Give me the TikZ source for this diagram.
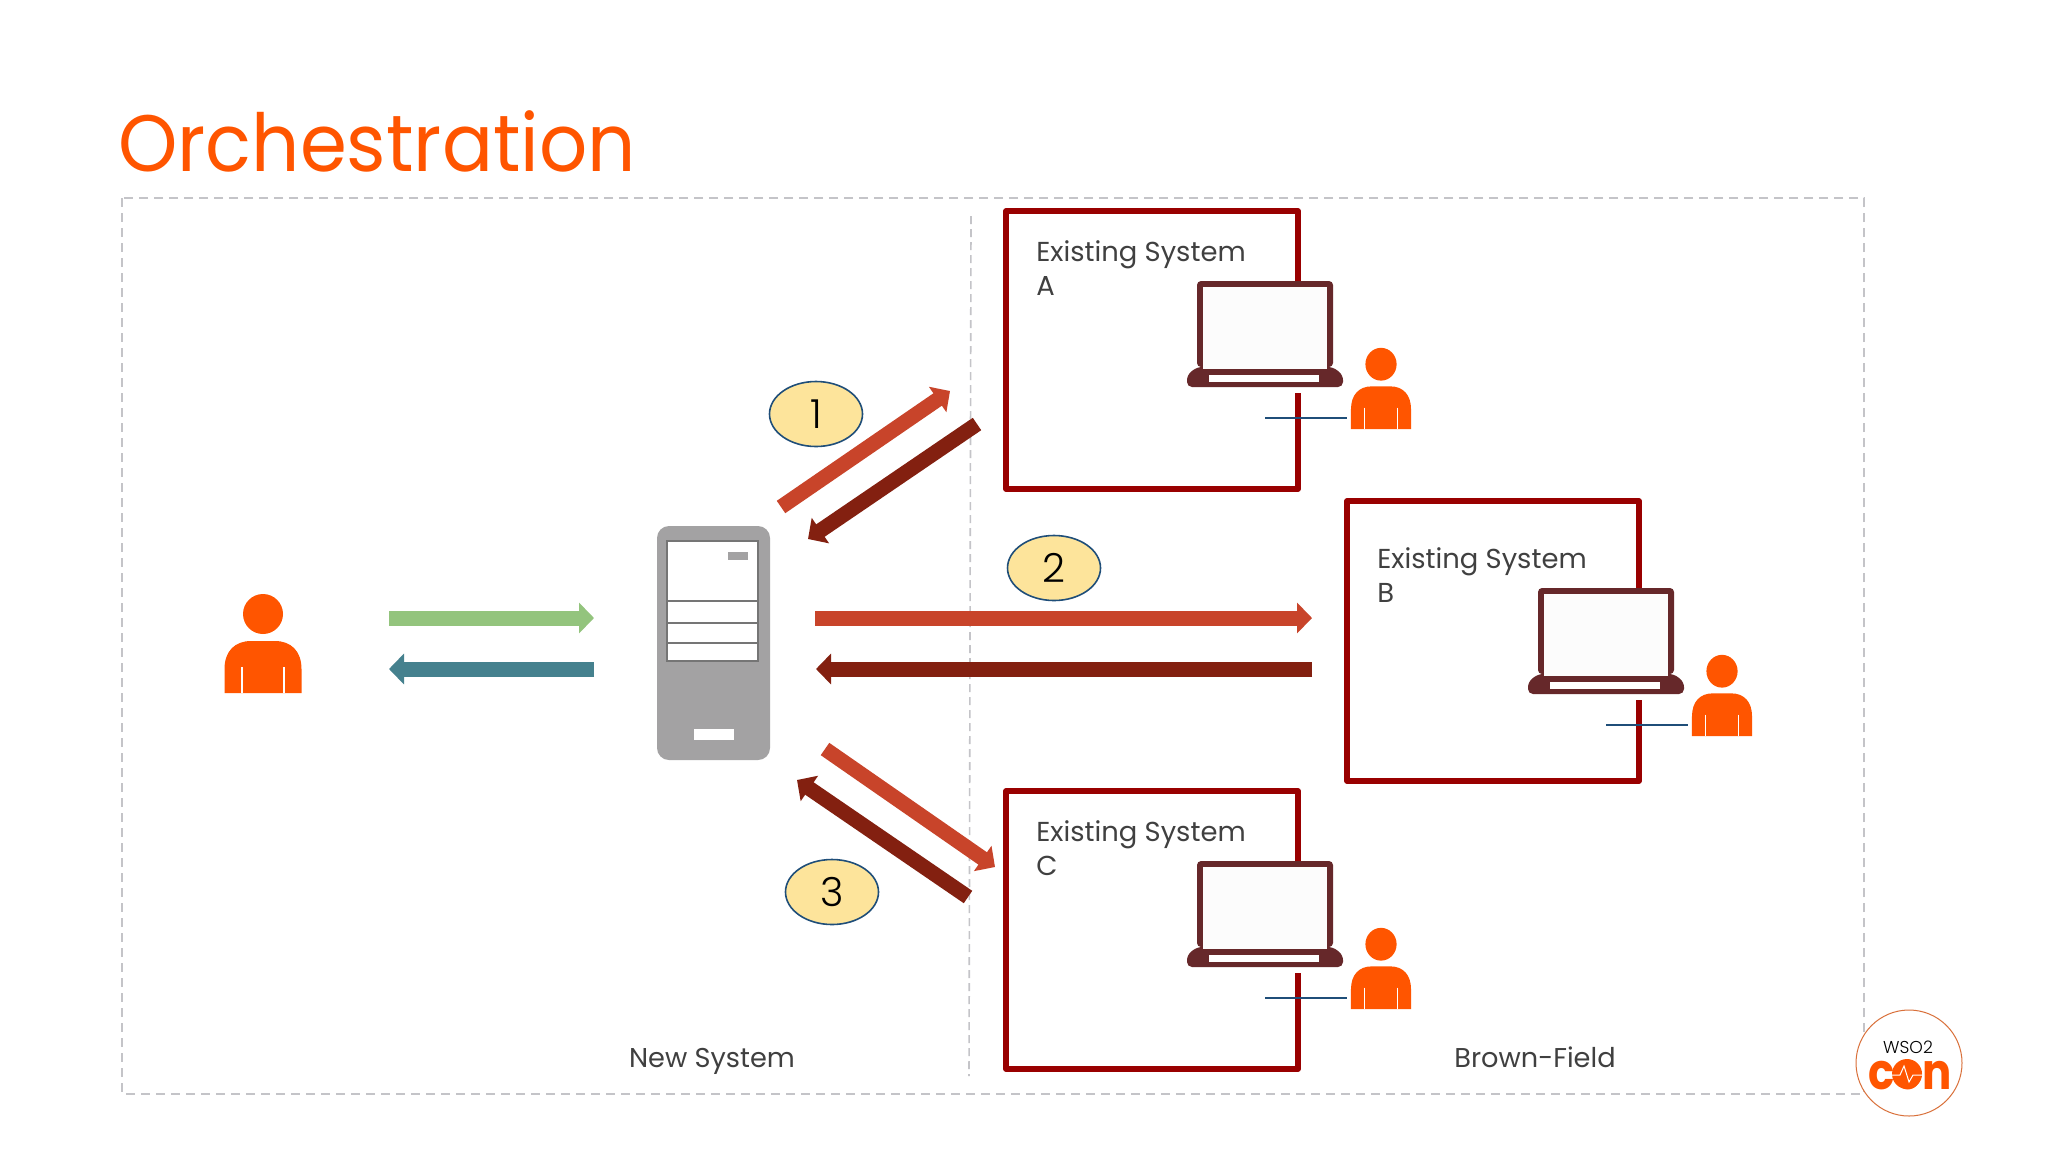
\documentclass[tikz,border=0pt]{standalone}
\usepackage{fontspec}
\setmainfont{Poppins}
\newfontfamily\titlefont{Poppins}[FakeStretch=.944]
\newfontfamily\numfont{Poppins}[UprightFont=* Light]
\newfontfamily\wsofont{Poppins}[UprightFont=* Light]
\newfontfamily\confont{Poppins}[UprightFont=* Bold]
\usetikzlibrary{arrows.meta,shapes.geometric}
\definecolor{wsoorange}{HTML}{FF5500}
\definecolor{boxred}{HTML}{990000}
\definecolor{arrowred}{HTML}{C8442A}
\definecolor{arrowdark}{HTML}{832010}
\definecolor{arrowgreen}{HTML}{93C47D}
\definecolor{arrowteal}{HTML}{45818E}
\definecolor{lapbrown}{HTML}{66282A}
\definecolor{dashgray}{HTML}{C4C4C8}
\definecolor{srvgray}{HTML}{A3A2A3}
\definecolor{srvline}{HTML}{757575}
\definecolor{linkblue}{HTML}{1F4E79}
\definecolor{badge}{HTML}{FDE49B}
\definecolor{txtgray}{HTML}{404040}
\definecolor{logoring}{HTML}{D9703A}
\tikzset{
  blockarrow/.style={line width=7.5pt,-{Triangle[length=7.5pt,width=15pt]}},
  sysbox/.style={draw=boxred,line width=2.7pt,rectangle,outer sep=0pt,inner sep=0pt,minimum width=146pt,minimum height=139pt,anchor=north west,line join=round},
  badgenode/.style={ellipse,draw=linkblue,fill=badge,line width=.8pt,minimum width=46.5pt,minimum height=32.5pt,inner sep=0pt,font=\numfont\fontsize{20}{20}\selectfont},
  systext/.style={anchor=north west,align=left,inner sep=0pt,text=txtgray,font=\fontsize{13.7}{17}\selectfont},
  caption/.style={anchor=base,text=txtgray,inner sep=0pt,font=\fontsize{13.6}{17}\selectfont},
  dashbox/.style={draw=dashgray,line width=.8pt,dash pattern=on 4.5pt off 3pt},
  person/.pic={
    \fill[wsoorange] (0,-79) circle[radius=20];
    \fill[wsoorange] (-38.5,0) -- (-38.5,-24) .. controls (-38.5,-42) and (-28,-52) .. (-12,-52) -- (12,-52) .. controls (28,-52) and (38.5,-42) .. (38.5,-24) -- (38.5,0) -- cycle;
    \draw[white,line width=.8pt] (-21,-26) -- (-21,0) (21,-26) -- (21,0);
  },
  laptop/.pic={
    \fill[white] (-5,0) rectangle (39,6);
    \fill[lapbrown,rounded corners=2pt] (-68,-20) -- (-68,-106) -- (68,-106) -- (68,-20) -- cycle;
    \fill[lapbrown,rounded corners=2.5pt] (-78,0) -- (-78,-12) -- (-68,-20) -- (68,-20) -- (78,-12) -- (78,0) -- cycle;
    \fill[white!99!black] (-62,-100) rectangle (62,-18);
    \fill[white] (-56,-12) rectangle (54,-5);
  }
}
\begin{document}
\begin{tikzpicture}[x=.5pt,y=-.5pt]
\useasboundingbox (0,0) rectangle (2048,1152);
\fill[white] (0,0) rectangle (2048,1152);
% title
\node[anchor=base west,inner sep=0pt,text=wsoorange,font=\titlefont\fontsize{40}{40}\selectfont] (title) at (118,171) {Orchestration};
% frame
\draw[dashbox] (122,198) rectangle (1864,1094);
\coordinate (divtop) at (971,216);
\coordinate (divbot) at (969,1076);
\draw[dashbox,dash pattern=on 4pt off 2.5pt] (divtop) -- (divbot);
% boxes
\node[sysbox] (boxA) at (1006,211) {};
\node[sysbox,minimum height=140pt] (boxB) at (1347,501) {};
\node[sysbox] (boxC) at (1006,791) {};
\node[systext] (txtA) at (1036,240) {Existing System\\A};
\node[systext] (txtB) at (1377,547) {Existing System\\B};
\node[systext] (txtC) at (1036,820) {Existing System\\C};
% laptops and users
\pic at (1265,387) {laptop};
\pic at (1606,694) {laptop};
\pic at (1265,967) {laptop};
\pic[xscale=.78,yscale=.82] at (1381,429) {person};
\pic[xscale=.78,yscale=.82] at (1722,736) {person};
\pic[xscale=.78,yscale=.82] at (1381,1009) {person};
\coordinate (la) at (1265,418); \coordinate (lb) at (1347,418);
\coordinate (lc) at (1606,725); \coordinate (ld) at (1688,725);
\coordinate (le) at (1265,998); \coordinate (lf) at (1347,998);
\draw[linkblue,line width=.7pt] (la) -- (lb) (lc) -- (ld) (le) -- (lf);
% client
\pic at (263,693) {person};
% server
\fill[srvgray,rounded corners=6pt] (657,526) rectangle (770,760);
\draw[srvline,fill=white,line width=.8pt] (667,541) rectangle (758,661);
\draw[srvline,line width=.8pt] (667,601) -- (758,601) (667,623) -- (758,623) (667,643) -- (758,643);
\fill[srvgray] (728,552) rectangle (748,560);
\fill[white] (694,729) rectangle (734,740);
% arrows
\coordinate (g1) at (389,618); \coordinate (g2) at (594,618);
\coordinate (t1) at (594,669); \coordinate (t2) at (389,669);
\draw[blockarrow,arrowgreen] (g1) -- (g2);
\draw[blockarrow,arrowteal] (t1) -- (t2);
\coordinate (a1) at (781,507); \coordinate (a2) at (950,391);
\coordinate (a3) at (977,424); \coordinate (a4) at (808,539);
\draw[blockarrow,arrowred] (a1) -- (a2);
\draw[blockarrow,arrowdark] (a3) -- (a4);
\coordinate (b1) at (815,618); \coordinate (b2) at (1312,618);
\coordinate (b3) at (1312,669); \coordinate (b4) at (816,669);
\draw[blockarrow,arrowred] (b1) -- (b2);
\draw[blockarrow,arrowdark] (b3) -- (b4);
\coordinate (c1) at (825,749); \coordinate (c2) at (995,867);
\coordinate (c3) at (968,897); \coordinate (c4) at (797,780);
\draw[blockarrow,arrowred] (c1) -- (c2);
\draw[blockarrow,arrowdark] (c3) -- (c4);
% badges
\node[badgenode] (n1) at (816,414) {1};
\node[badgenode] (n2) at (1054,568) {2};
\node[badgenode] (n3) at (832,892) {3};
% captions
\node[caption] (newsys) at (712,1067) {New System};
\node[caption] (brown) at (1535,1067) {Brown-Field};
% logo
\node[circle,draw=logoring,fill=white,line width=.5pt,minimum size=53pt,inner sep=0pt] (logo) at (1909,1063) {};
\node[inner sep=0pt,font=\wsofont\fontsize{8.6}{10}\selectfont] (wso) at (1908,1047) {WSO2};
\node[inner sep=0pt,anchor=base,text=wsoorange,font=\confont\fontsize{25}{25}\selectfont] (con) at (1910,1089) {\scalebox{.87}[1]{con}};
\fill[wsoorange] (1907,1074) circle[radius=15];
\draw[white,line width=.5pt] (1892,1075) -- (1900,1075) -- (1904,1066) -- (1909,1082) -- (1913,1075) -- (1923,1075);
\end{tikzpicture}
\end{document}
